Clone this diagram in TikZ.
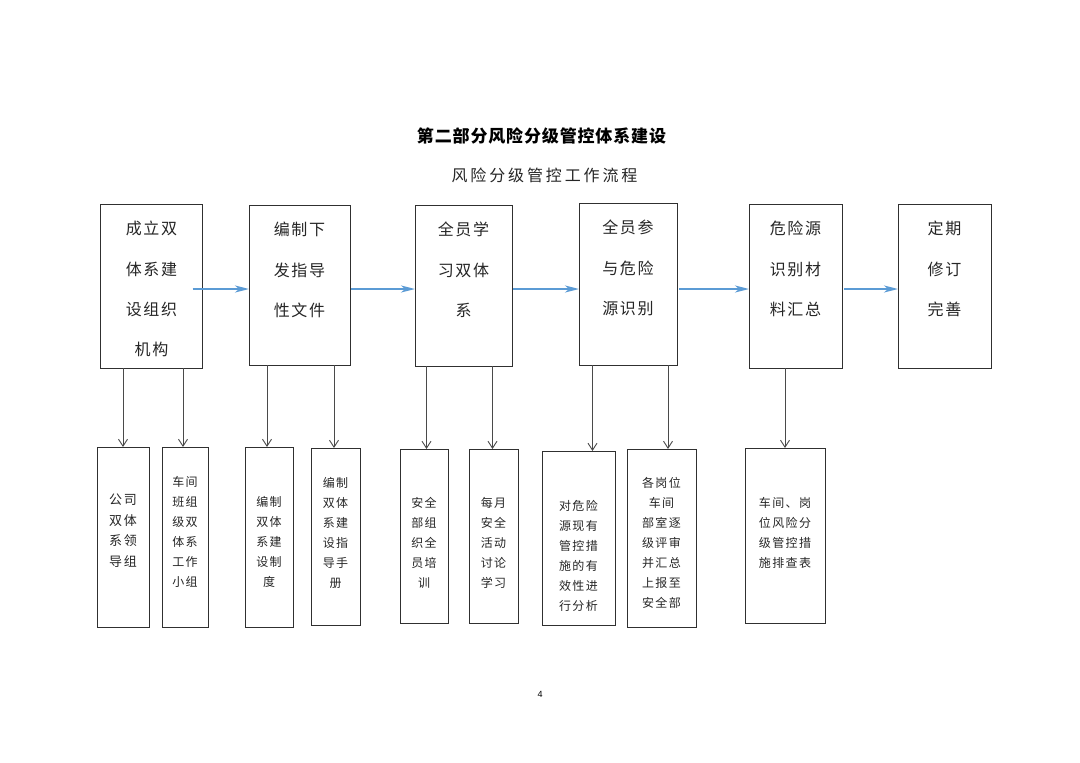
\documentclass[tikz,border=0pt]{standalone}
\usepackage{fontspec}
\setmainfont{Liberation Sans}
\newfontfamily\cjktitle[LetterSpace=5]{Noto Sans CJK SC}
\newfontfamily\cjksub[LetterSpace=18]{Noto Sans CJK SC}
\newfontfamily\cjktop[LetterSpace=10]{Noto Sans CJK SC}
\newfontfamily\cjkbot[LetterSpace=12]{Noto Sans CJK SC}
\usetikzlibrary{arrows.meta}
\definecolor{boxgray}{HTML}{303030}
\definecolor{arrowgray}{HTML}{4A4A4A}
\definecolor{flowblue}{HTML}{5B9BD5}
\definecolor{textgray}{HTML}{262626}
\tikzset{
	topbox/.style={draw=boxgray, line width=1pt, outer sep=0pt, inner sep=0pt},
	botbox/.style={draw=boxgray, line width=1pt, outer sep=0pt, inner sep=0pt},
	toptext/.style={anchor=north, yshift=-17pt, align=center, inner sep=0pt, text=textgray, font=\fontsize{16pt}{40.3pt}\cjktop},
	bottext/.style={anchor=north, align=center, inner sep=0pt, text=textgray, font=\fontsize{12pt}{20pt}\cjkbot},
	flow/.style={draw=flowblue, line width=1.7pt, -{Stealth[length=14pt,width=7pt,inset=4pt]}},
	down/.style={draw=arrowgray, line width=0.9pt, -{Straight Barb[length=7pt,width=9pt]}}
}

\begin{document}
\begin{tikzpicture}[x=1pt, y=-1pt]
		%%%%% START %%%%%
		\useasboundingbox[fill=white] (0, 0) rectangle (1080, 763);
		
		\node[text=black, font=\fontsize{17pt}{20pt}\cjktitle\bfseries] (title) at (541.5, 135.7) {第二部分风险分级管控体系建设};
		\node[text=textgray, font=\fontsize{16pt}{20pt}\cjksub] (sub) at (544.5, 175) {风险分级管控工作流程};
		
		% top row
		\node[topbox, minimum width=102pt, minimum height=164pt, label={[toptext]north:成立双\\体系建\\设组织\\机构}] (b1) at (151.5, 286) {};
		\node[topbox, minimum width=101pt, minimum height=160pt, label={[toptext]north:编制下\\发指导\\性文件}] (b2) at (299.5, 285) {};
		\node[topbox, minimum width=97pt, minimum height=161pt, label={[toptext]north:全员学\\习双体\\系}] (b3) at (463.5, 285.5) {};
		\node[topbox, minimum width=98pt, minimum height=162pt, label={[toptext]north:全员参\\与危险\\源识别}] (b4) at (628, 284) {};
		\node[topbox, minimum width=93pt, minimum height=164pt, label={[toptext]north:危险源\\识别材\\料汇总}] (b5) at (795.5, 286) {};
		\node[topbox, minimum width=93pt, minimum height=164pt, label={[toptext]north:定期\\修订\\完善}] (b6) at (944.5, 286) {};
		
		% bottom row
		\node[botbox, minimum width=52pt, minimum height=180pt, label={[bottext,yshift=-47pt,font=\fontsize{13pt}{20.5pt}\cjkbot]north:公司\\双体\\系领\\导组}] (a1) at (123, 537) {};
		\node[botbox, minimum width=46pt, minimum height=180pt, label={[bottext,yshift=-29pt]north:车间\\班组\\级双\\体系\\工作\\小组}] (a2) at (185, 537) {};
		\node[botbox, minimum width=48pt, minimum height=180pt, label={[bottext,yshift=-49pt]north:编制\\双体\\系建\\设制\\度}] (a3) at (269, 537) {};
		\node[botbox, minimum width=49pt, minimum height=177pt, label={[bottext,yshift=-29pt]north:编制\\双体\\系建\\设指\\导手\\册}] (a4) at (335.5, 536.5) {};
		\node[botbox, minimum width=48pt, minimum height=174pt, label={[bottext,yshift=-48pt]north:安全\\部组\\织全\\员培\\训}] (a5) at (424, 536) {};
		\node[botbox, minimum width=49pt, minimum height=174pt, label={[bottext,yshift=-48pt]north:每月\\安全\\活动\\讨论\\学习}] (a6) at (493.5, 536) {};
		\node[botbox, minimum width=73pt, minimum height=174pt, label={[bottext,yshift=-49pt]north:对危险\\源现有\\管控措\\施的有\\效性进\\行分析}] (a7) at (578.5, 538) {};
		\node[botbox, minimum width=69pt, minimum height=178pt, label={[bottext,yshift=-28pt]north:各岗位\\车间\\部室逐\\级评审\\并汇总\\上报至\\安全部}] (a8) at (661.5, 538) {};
		\node[botbox, minimum width=80pt, minimum height=175pt, label={[bottext,yshift=-49pt]north:车间、岗\\位风险分\\级管控措\\施排查表}] (a9) at (785, 535.5) {};
		
		% blue flow arrows
		\coordinate (fy) at (0, 289);
		\draw[flow] ([xshift=-10pt]b1.east |- fy) -- (b2.west |- fy);
		\draw[flow] ([xshift=1pt]b2.east |- fy) -- (b3.west |- fy);
		\draw[flow] ([xshift=1pt]b3.east |- fy) -- (b4.west |- fy);
		\draw[flow] ([xshift=2pt]b4.east |- fy) -- (b5.west |- fy);
		\draw[flow] ([xshift=2pt]b5.east |- fy) -- (b6.west |- fy);
		
		% down arrows
		\coordinate (d1) at (123, 0);
		\coordinate (d2) at (183, 0);
		\coordinate (d3) at (267, 0);
		\coordinate (d4) at (334, 0);
		\coordinate (d5) at (426.5, 0);
		\coordinate (d6) at (492.5, 0);
		\coordinate (d7) at (592.5, 0);
		\coordinate (d8) at (668, 0);
		\coordinate (d9) at (785, 0);
		\draw[down] (b1.south -| d1) -- (a1.north -| d1);
		\draw[down] (b1.south -| d2) -- (a2.north -| d2);
		\draw[down] (b2.south -| d3) -- (a3.north -| d3);
		\draw[down] (b2.south -| d4) -- (a4.north -| d4);
		\draw[down] (b3.south -| d5) -- (a5.north -| d5);
		\draw[down] (b3.south -| d6) -- (a6.north -| d6);
		\draw[down] (b4.south -| d7) -- (a7.north -| d7);
		\draw[down] (b4.south -| d8) -- (a8.north -| d8);
		\draw[down] (b5.south -| d9) -- (a9.north -| d9);
		
		\node[font=\fontsize{9pt}{10pt}\selectfont] (pg) at (540, 694) {4};
		%%%%% END %%%%%
\end{tikzpicture}
\end{document}
